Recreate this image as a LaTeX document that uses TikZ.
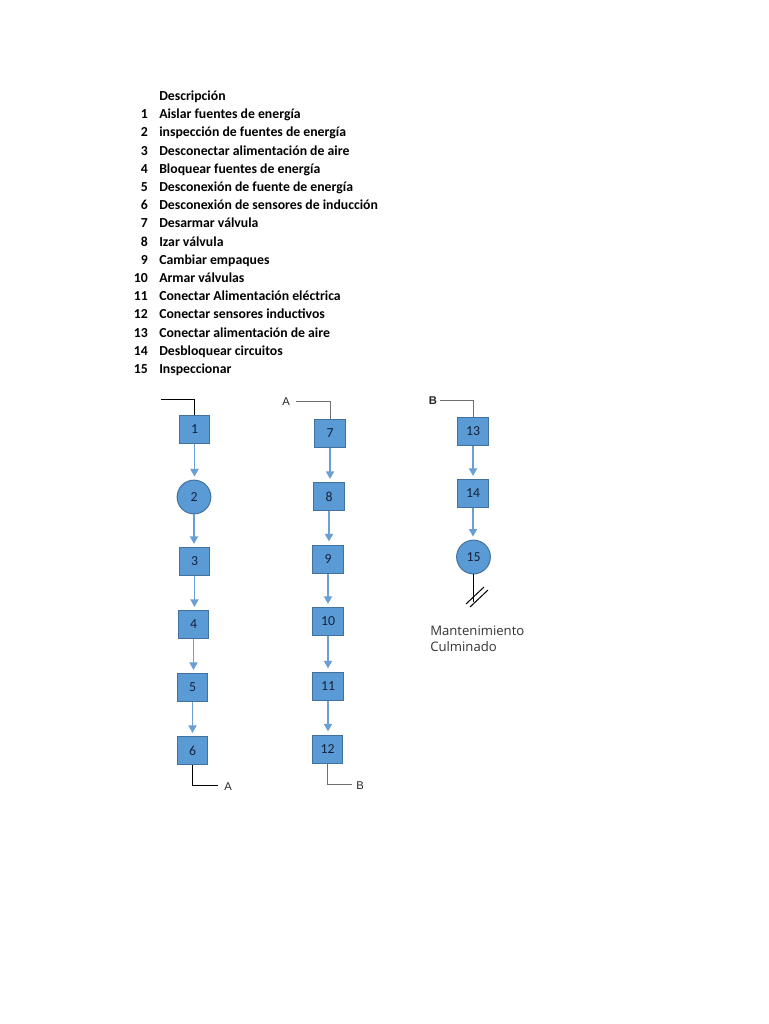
\documentclass[tikz,border=0pt]{standalone}
\usepackage{fontspec}
\setmainfont{Carlito}
\newfontfamily\arialf{Liberation Sans}
\newfontfamily\segoef{Open Sans}
\usetikzlibrary{arrows.meta}
\definecolor{boxfill}{HTML}{5B9BD5}
\definecolor{boxline}{HTML}{41719C}
\definecolor{arrowc}{HTML}{6A9FD4}
\definecolor{numc}{HTML}{14213D}
\definecolor{grayline}{HTML}{6F6F6F}
\tikzset{
  stepbox/.style={rectangle, fill=boxfill, draw=boxline, line width=0.8pt,
    minimum width=24.6pt, minimum height=22.4pt, inner sep=0pt,
    font=\fontsize{11}{13}\selectfont, text=numc},
  stepcirc/.style={circle, fill=boxfill, draw=boxline, line width=0.8pt,
    minimum size=27pt, inner sep=0pt,
    font=\fontsize{11}{13}\selectfont, text=numc},
  flow/.style={draw=arrowc, line width=1.1pt, shorten >=2.5pt,
    -{Triangle[length=6pt,width=6.5pt]}},
  conn/.style={draw=black, line width=0.8pt},
  gconn/.style={draw=grayline, line width=0.8pt},
  lbl/.style={font=\arialf\fontsize{9}{11}\selectfont, inner sep=0pt, text=black!85},
  listnum/.style={anchor=base east, inner sep=0pt, font=\bfseries\fontsize{11}{13}\selectfont},
  listtxt/.style={anchor=base west, inner sep=0pt, font=\bfseries\fontsize{11}{13}\selectfont},
}
\begin{document}
\begin{tikzpicture}[x=0.28112mm, y=-0.28112mm]
\path[use as bounding box, fill=white] (0,0) rectangle (768,1024);

% description list
\node[listtxt] (hdr) at (159,100.5) {Descripción};
\foreach \n/\t [count=\i] in {
 1/Aislar fuentes de energía,
 2/inspección de fuentes de energía,
 3/Desconectar alimentación de aire,
 4/Bloquear fuentes de energía,
 5/Desconexión de fuente de energía,
 6/Desconexión de sensores de inducción,
 7/Desarmar válvula,
 8/Izar válvula,
 9/Cambiar empaques,
 10/Armar válvulas,
 11/Conectar Alimentación eléctrica,
 12/Conectar sensores inductivos,
 13/Conectar alimentación de aire,
 14/Desbloquear circuitos,
 15/Inspeccionar}{
  \node[listnum] (n\i) at (148,{100.5+18.2*\i}) {\n};
  \node[listtxt] (t\i) at (159,{100.5+18.2*\i}) {\t};
}

% column 1
\node[stepbox] (b1) at (194.5,429) {1};
\node[stepcirc] (b2) at (194,497) {2};
\node[stepbox] (b3) at (194.5,561.5) {3};
\node[stepbox] (b4) at (193.5,624.5) {4};
\node[stepbox] (b5) at (192.5,687.5) {5};
\node[stepbox] (b6) at (192.5,750.5) {6};
\coordinate (s1) at (161,399);
\draw[conn] (s1) -| (b1.north);
\draw[flow] (b1.south) -- (b1.south |- b2.north);
\draw[flow] (b2.south) -- (b2.south |- b3.north);
\draw[flow] (b3.south) -- (b3.south |- b4.north);
\draw[flow] (b4.south) -- (b4.south |- b5.north);
\draw[flow] (b5.south) -- (b5.south |- b6.north);
\coordinate (e1) at (218,785);
\node[lbl] (la1) at (228,787) {A};
\draw[conn] (b6.south) |- (e1);

% column 2
\node[lbl] (la2) at (286,402) {A};
\coordinate (s2) at (296,401);
\node[stepbox] (b7) at (330,433) {7};
\node[stepbox] (b8) at (329,496.5) {8};
\node[stepbox] (b9) at (328,559) {9};
\node[stepbox] (b10) at (328,621.5) {10};
\node[stepbox] (b11) at (328,686) {11};
\node[stepbox] (b12) at (327.5,749) {12};
\draw[gconn] (s2) -| (b7.north);
\draw[flow] (b7.south) -- (b7.south |- b8.north);
\draw[flow] (b8.south) -- (b8.south |- b9.north);
\draw[flow] (b9.south) -- (b9.south |- b10.north);
\draw[flow] (b10.south) -- (b10.south |- b11.north);
\draw[flow] (b11.south) -- (b11.south |- b12.north);
\coordinate (e2) at (352,784);
\node[lbl] (lb2) at (360,786) {B};
\draw[gconn] (b12.south) |- (e2);

% column 3
\node[lbl, font=\arialf\bfseries\fontsize{9}{11}\selectfont] (lb3) at (433,401) {B};
\coordinate (s3) at (440,400);
\node[stepbox] (b13) at (473,431) {13};
\node[stepbox] (b14) at (473,493.5) {14};
\node[stepcirc] (b15) at (473.5,557) {15};
\draw[gconn] (s3) -| (b13.north);
\draw[flow] (b13.south) -- (b13.south |- b14.north);
\draw[flow] (b14.south) -- (b14.south |- b15.north);
\coordinate (e3) at (473.5,602);
\draw[conn, line width=1.1pt] (b15.south) -- (e3);
\coordinate (k1a) at (466,604);
\coordinate (k1b) at (484,587);
\coordinate (k2a) at (470,607);
\coordinate (k2b) at (488,590);
\draw[conn] (k1a) -- (k1b);
\draw[conn] (k2a) -- (k2b);
\node[anchor=west, inner sep=0pt, align=left, text=black!80,
  font=\segoef\fontsize{10.5}{12.8}\selectfont] (fin) at (430,639) {Mantenimiento\\Culminado};
\end{tikzpicture}
\end{document}
